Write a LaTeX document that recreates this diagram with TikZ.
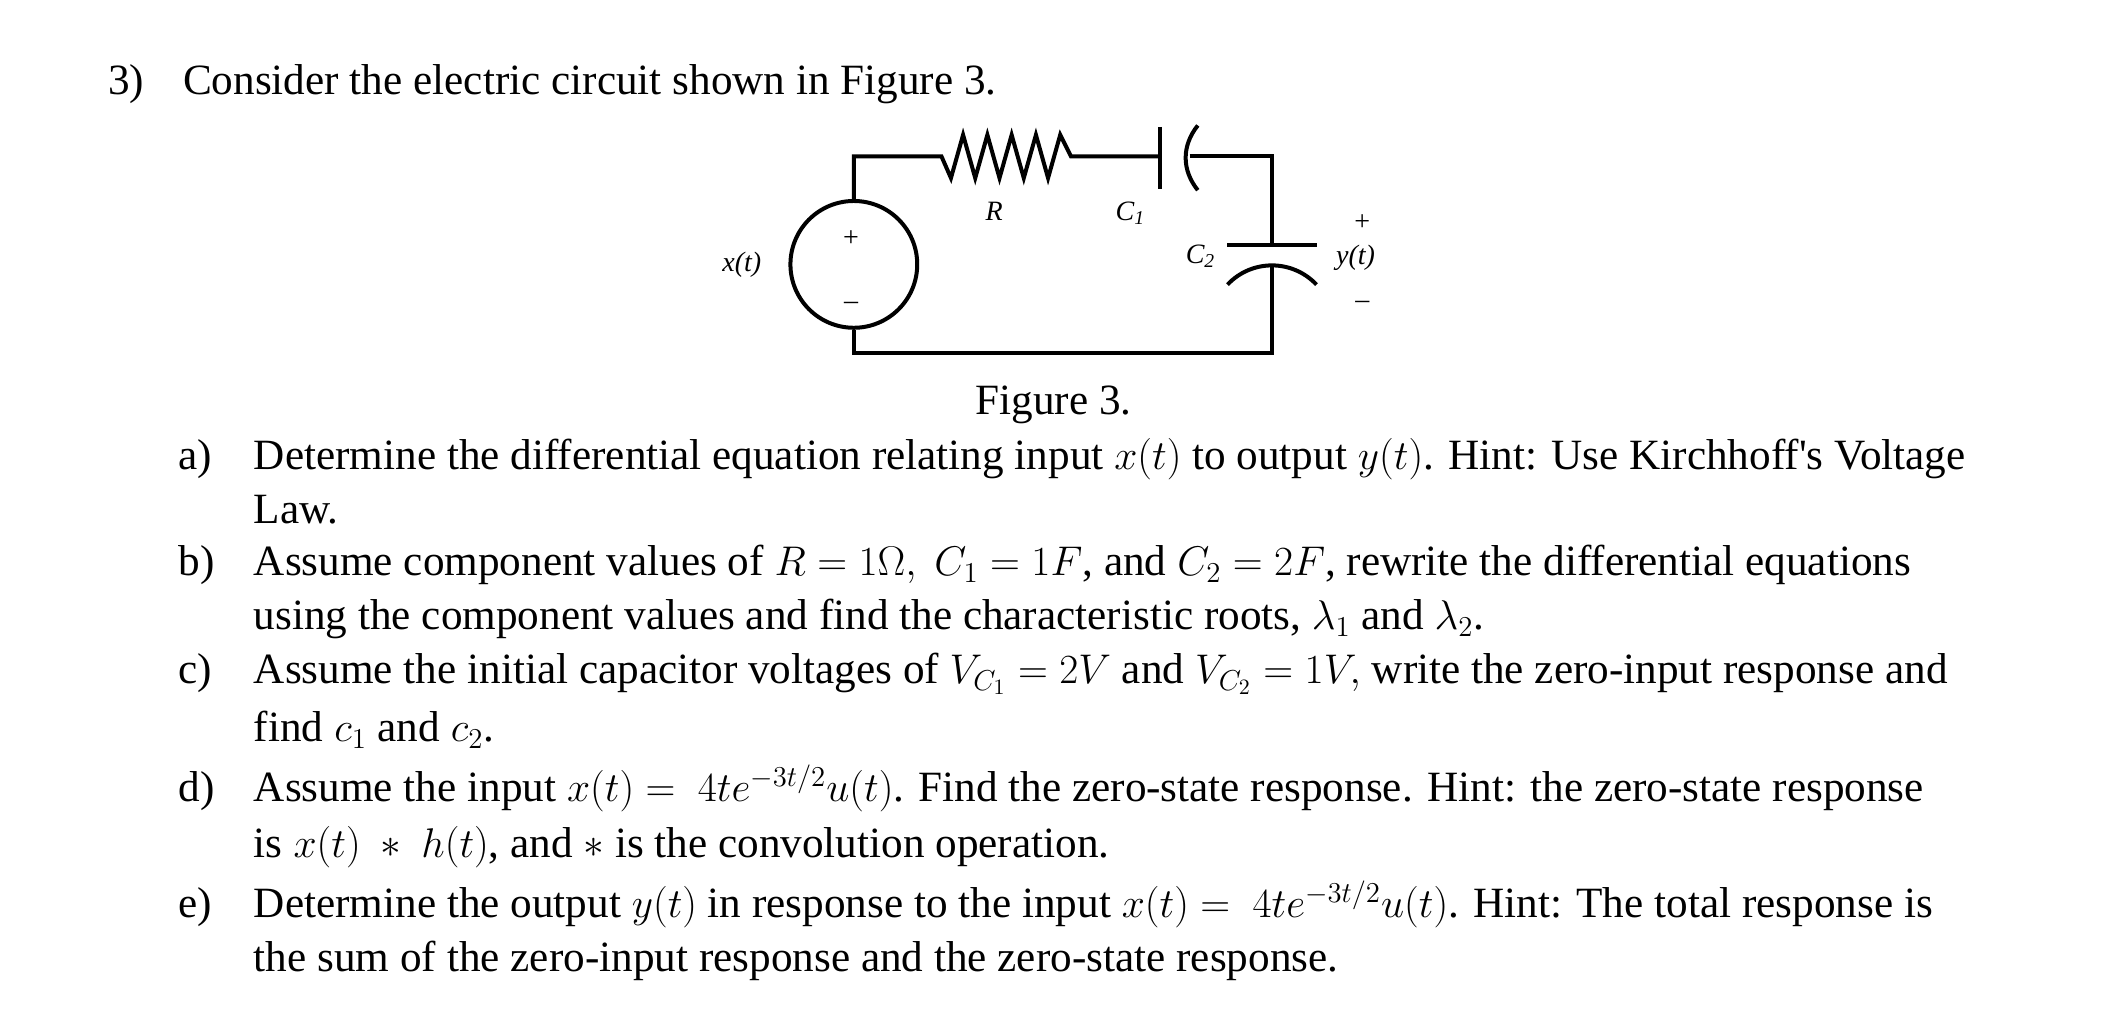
\documentclass[tikz,border=0pt]{standalone}
\usepackage{fontspec}
\setmainfont{Liberation Serif}
\begin{document}
\begin{tikzpicture}[x=0.6745pt,y=-0.6745pt,
  wire/.style={line width=2pt,line join=miter},
  txt/.style={anchor=base west,inner sep=0pt,font=\fontsize{21.6}{26}\selectfont},
  lab/.style={inner sep=0pt,font=\fontsize{14}{16}\selectfont}]
\useasboundingbox (0,0) rectangle (1568,752);
\node[txt] (h) at (80,70) {3)\hspace{0.9em}Consider the electric circuit shown in Figure 3.};
% circuit
\node[circle,draw,line width=2pt,minimum size=94*0.6745pt,inner sep=0pt] (src) at (633,196) {};
\coordinate (tl) at (633,116);
\coordinate (r1) at (698,116);
\coordinate (r2) at (808,116);
\coordinate (c1a) at (860,116);
\coordinate (c1b) at (882,116);
\coordinate (tr) at (943,116);
\coordinate (c2a) at (943,182);
\coordinate (c2b) at (943,198);
\coordinate (br) at (943,262);
\coordinate (bl) at (633,262);
\draw[wire] (src.north) -- (tl) -- (r1) -- (705,132) -- (714,100) -- (723,132) -- (732,100) -- (741,132) -- (750,100) -- (759,132) -- (768,100) -- (777,132) -- (786,100) -- (794,116) -- (r2) -- (c1a);
\draw[wire] (860,94) -- (860,140);
\draw[wire] (888,93) .. controls (876,108) and (876,126) .. (888,141);
\draw[wire] (c1b) -- (tr) -- (c2a);
\draw[wire] (910,182) -- (976,182);
\draw[wire] (910,211) .. controls (928,192) and (958,192) .. (976,211);
\draw[wire] (c2b) -- (br) -- (bl) -- (src.south);
\node[lab] (xl) at (550,196) {\itshape x(t)};
\node[lab] (sp) at (631,177) {+};
\node[lab] (sm) at (631,227) {–};
\node[lab] (rl) at (737,157) {\itshape R};
\node[lab] (c1l) at (838,158) {\itshape C\textsubscript{1}};
\node[lab] (c2l) at (890,190) {\itshape C\textsubscript{2}};
\node[lab] (yp) at (1010,165) {+};
\node[lab] (yl) at (1005,191) {\itshape y(t)};
\node[lab] (ym) at (1010,226) {–};
\node[txt,anchor=base] (fig) at (781,307) {Figure 3.};
% items
\node[txt] (la) at (132,348) {a)};
\node[txt] (a1) at (188,348) {Determine the differential equation relating input $x(t)$ to output $y(t)$. Hint: Use Kirchhoff\textquotesingle s Voltage};
\node[txt] (a2) at (188,388) {Law.};
\node[txt] (lb) at (132,427) {b)};
\node[txt] (b1) at (188,427) {Assume component values of $R=1\Omega,\ C_1=1F$, and $C_2=2F$, rewrite the differential equations};
\node[txt] (b2) at (188,467) {using the component values and find the characteristic roots, $\lambda_1$ and $\lambda_2$.};
\node[txt] (lc) at (132,507) {c)};
\node[txt] (c1) at (188,507) {Assume the initial capacitor voltages of $V_{C_1}=2V$ and $V_{C_2}=1V,$\ write the zero-input response and};
\node[txt] (c2) at (188,550) {find $c_1$ and $c_2$.};
\node[txt] (ld) at (132,594) {d)};
\node[txt] (d1) at (188,594) {Assume the input $x(t)=\ 4te^{-3t/2}u(t)$. Find the zero-state response. Hint: the zero-state response};
\node[txt] (d2) at (188,636) {is $x(t)\ *\ h(t)$, and $*$ is the convolution operation.};
\node[txt] (le) at (132,680) {e)};
\node[txt] (e1) at (188,680) {Determine the output $y(t)$ in response to the input $x(t)=\ 4te^{-3t/2}u(t)$. Hint: The total response is};
\node[txt] (e2) at (188,720) {the sum of the zero-input response and the zero-state response.};
\end{tikzpicture}
\end{document}
